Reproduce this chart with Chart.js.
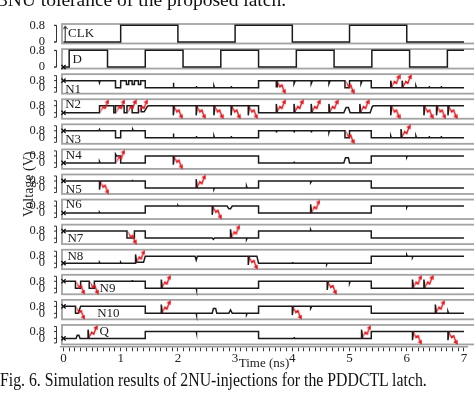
<!DOCTYPE html>
<html>
<head>
<meta charset="utf-8">
<script src="https://cdn.jsdelivr.net/npm/chart.js@4.4.0/dist/chart.umd.min.js"></script>
<style>
  html, body { margin: 0; padding: 0; background: #fff; }
  body { width: 474px; height: 395px; position: relative; overflow: hidden;
         font-family: "Liberation Serif", "Times New Roman", serif; color: #111; }
  #wrap { position: absolute; left: 0; top: 0; width: 474px; height: 395px; }
  .cap { position: absolute; left: 0; white-space: nowrap; line-height: 1; }
  #capTop { top: -10px; left: -2px; font-size: 19.5px; }
  #capBottom { top: 373.3px; left: 0; font-size: 15.8px; transform: scaleY(1.15); transform-origin: 0 13.2px; }
</style>
</head>
<body>
<div id="wrap"><canvas id="chart"></canvas></div>
<div class="cap" id="capTop">3NU tolerance of the proposed latch.</div>
<div class="cap" id="capBottom">Fig. 6. Simulation results of 2NU-injections for the PDDCTL latch.</div>
<script>
// Signal names, top to bottom
const rows = ['CLK', 'D', 'N1', 'N2', 'N3', 'N4', 'N5', 'N6', 'N7', 'N8', 'N9', 'N10', 'Q'];

// Waveforms as [time (ns), voltage (V)]
const clkWave = [[0,0],[1,0],[1,0.8],[2,0.8],[2,0],[3,0],[3,0.8],[4,0.8],[4,0],[5,0],[5,0.8],[6,0.8],[6,0],[7,0]];
const dWave = [[0,0],[0.1,0],[0.1,0.8],[0.77,0.8],[0.77,0],[1.43,0],[1.43,0.8],[2.09,0.8],[2.09,0],[2.75,0],[2.75,0.8],
  [3.41,0.8],[3.41,0],[4.07,0],[4.07,0.8],[4.73,0.8],[4.73,0],[5.39,0],[5.39,0.8],[6.05,0.8],[6.05,0],[6.71,0],[6.71,0.8],[7,0.8]];
const n1Wave = [[0,0.8],[0.62,0.8],[0.63,0.55],[0.64,0.8],[0.91,0.8],[0.91,0],[1.0,0],[1.0,0.8],
  [1.1,0.8],[1.1,0.35],[1.14,0.35],[1.14,0.8],[1.2,0.8],[1.2,0.35],[1.24,0.35],[1.24,0.8],
  [1.31,0.8],[1.31,0.35],[1.35,0.35],[1.35,0.8],[1.43,0.8],[1.43,0],
  [1.92,0],[1.92,0.55],[1.93,0],[2.32,0],[2.32,0.2],[2.33,0],[2.63,0],[2.63,0.2],[2.64,0],[2.93,0],[2.93,0.2],[2.94,0],
  [3.41,0],[3.41,0.8],[3.72,0.8],[3.72,0.1],[3.74,0.1],[3.74,0.8],
  [4.03,0.8],[4.03,0.45],[4.05,0.8],[4.33,0.8],[4.33,0.45],[4.35,0.8],[4.64,0.8],[4.64,0.45],[4.66,0.8],
  [4.92,0.8],[4.92,0],[5.0,0],[5.0,0.8],[5.2,0.8],[5.2,0.45],[5.22,0.8],[5.38,0.8],[5.38,0],
  [5.72,0],[5.72,0.8],[5.74,0],[5.92,0],[5.92,0.8],[5.94,0],
  [6.16,0],[6.16,0.2],[6.17,0],[6.39,0],[6.39,0.2],[6.4,0],[6.6,0],[6.6,0.2],[6.61,0],[7,0]];
const n2Wave = [[0,0],[0.63,0],[0.63,0.8],[0.88,0.8],[0.88,0],[0.91,0],[0.91,0.8],[1.06,0.8],[1.06,0],
  [1.11,0],[1.11,0.8],[1.2,0.8],[1.2,0],[1.31,0],[1.31,0.8],[1.36,0.8],[1.36,0.1],[1.41,0.1],[1.47,0.75],[1.5,0.8],
  [1.92,0.8],[1.92,-0.3],[1.94,0.8],[2.32,0.8],[2.32,-0.3],[2.34,0.8],[2.63,0.8],[2.63,-0.3],[2.65,0.8],
  [2.93,0.8],[2.93,-0.3],[2.95,0.8],[3.23,0.8],[3.23,-0.3],[3.25,0.8],[3.41,0.8],[3.41,0],
  [3.72,0],[3.72,1.0],[3.74,0],[4.03,0],[4.03,1.0],[4.05,0],[4.33,0],[4.33,1.0],[4.35,0],[4.64,0],[4.64,1.0],[4.66,0],
  [4.9,0],[4.94,0.6],[4.98,0.6],[5.01,0],[5.18,0],[5.18,1.0],[5.2,0],[5.36,0],[5.4,0.75],[5.43,0.8],
  [5.72,0.8],[5.72,-0.3],[5.74,0.8],[6.3,0.8],[6.3,-0.3],[6.32,0.8],[6.52,0.8],[6.52,-0.3],[6.54,0.8],
  [6.72,0.8],[6.72,-0.3],[6.74,0.8],[7,0.8]];
const n3Wave = [[0,0.8],[0.62,0.8],[0.63,0.95],[0.64,0.8],[0.91,0.8],[0.91,0],[1.0,0],[1.0,0.8],
  [1.2,0.8],[1.21,0.95],[1.22,0.8],[1.43,0.8],[1.43,0],
  [1.92,0],[1.92,0.5],[1.93,0],[2.32,0],[2.32,0.2],[2.33,0],[2.63,0],[2.63,0.2],[2.64,0],[2.93,0],[2.93,0.2],[2.94,0],
  [3.41,0],[3.41,0.8],[3.72,0.8],[3.72,0.6],[3.73,0.8],[4.03,0.8],[4.03,0.6],[4.04,0.8],
  [4.33,0.8],[4.33,0.6],[4.34,0.8],[4.64,0.8],[4.64,0.6],[4.65,0.8],
  [4.92,0.8],[4.92,0],[5.0,0],[5.0,0.8],[5.38,0.8],[5.38,0],
  [5.72,0],[5.72,0.2],[5.73,0],[5.9,0],[5.9,1.0],[5.92,0],
  [6.16,0],[6.16,0.2],[6.17,0],[6.39,0],[6.39,0.2],[6.4,0],[6.6,0],[6.6,0.2],[6.61,0],[7,0]];
const n4Wave = [[0,0],[0.63,0],[0.63,0.15],[0.64,0],[0.91,0],[0.91,1.0],[0.93,0.8],[1.0,0.8],[1.0,0],
  [1.43,0],[1.43,0.8],[1.92,0.8],[1.92,-0.2],[1.94,0.8],[3.41,0.8],[3.41,0],
  [4.03,0],[4.03,0.15],[4.04,0],[4.9,0],[4.93,0.6],[4.98,0.6],[5.0,0],[5.38,0],[5.38,0.8],
  [6.0,0.8],[6.0,0.65],[6.01,0.8],[7,0.8]];
const n5Wave = [[0,0.8],[0.63,0.8],[0.63,-0.2],[0.65,0.8],[1.2,0.8],[1.2,0.95],[1.21,0.8],[1.43,0.8],[1.43,0],
  [2.32,0],[2.32,1.0],[2.34,0],[2.63,0],[2.63,-0.15],[2.64,0],[3.2,0],[3.2,0.2],[3.21,0],
  [3.41,0],[3.41,0.8],[4.32,0.8],[4.32,0.6],[4.34,0.8],[5.38,0.8],[5.38,0],[7,0]];
const n6Wave = [[0,0],[0.63,0],[0.63,0.1],[0.64,0],[1.43,0],[1.43,0.8],[2.0,0.8],[2.0,0.9],[2.01,0.8],
  [2.6,0.8],[2.6,-0.2],[2.62,0.8],[2.86,0.8],[2.89,0.5],[2.92,0.5],[2.95,0.8],[3.41,0.8],[3.41,0],
  [4.32,0],[4.32,1.0],[4.34,0],[5.38,0],[5.38,0.8],[6.0,0.8],[6.0,0.65],[6.01,0.8],[7,0.8]];
const n7Wave = [[0,0.8],[1.11,0.8],[1.11,0],[1.24,0],[1.24,0.8],[1.43,0.8],[1.43,0],
  [2.6,0],[2.62,-0.15],[2.64,0],[2.92,0],[2.92,1.0],[2.94,0],[3.2,0],[3.2,-0.15],[3.21,0],
  [3.41,0],[3.41,0.8],[4.32,0.8],[4.32,0.95],[4.33,0.8],[5.38,0.8],[5.38,0],[7,0]];
const n8Wave = [[0,0],[0.63,0],[0.63,0.1],[0.64,0],[1.0,0],[1.0,0.1],[1.01,0],
  [1.26,0],[1.26,1.0],[1.28,0.1],[1.4,0.1],[1.43,0.8],[2.3,0.8],[2.32,0.35],[2.34,0.8],
  [3.23,0.8],[3.23,-0.2],[3.25,0.8],[3.38,0.8],[3.41,0],[4.0,0],[4.0,0.15],[4.01,0],[4.6,0],[4.6,-0.15],[4.61,0],
  [5.38,0],[5.38,0.8],[6.0,0.8],[6.0,0.95],[6.01,0.8],[6.1,0.8],[6.1,0.65],[6.11,0.8],[7,0.8]];
const n9Wave = [[0,0.8],[0.21,0.8],[0.21,0],[0.3,0],[0.3,0.8],[0.45,0.8],[0.45,0],[0.54,0],[0.54,0.8],
  [1.2,0.8],[1.2,0.95],[1.21,0.8],[1.43,0.8],[1.43,0],[1.71,0],[1.71,1.0],[1.73,0],
  [2.32,0],[2.32,-0.15],[2.33,0],[3.41,0],[3.41,0.8],[4.61,0.8],[4.61,-0.2],[4.63,0.8],
  [5.0,0.8],[5.0,0.6],[5.01,0.8],[5.38,0.8],[5.38,0],[6.1,0],[6.1,1.0],[6.12,0],[6.3,0],[6.3,1.0],[6.32,0],[7,0]];
const n10Wave = [[0,0.8],[0.21,0.8],[0.21,0],[0.26,0],[0.3,0.8],[1.43,0.8],[1.43,0],
  [1.71,0],[1.71,1.0],[1.73,0],[2.32,0],[2.32,-0.15],[2.33,0],[2.6,0],[2.62,0.55],[2.66,0.55],[2.68,0],
  [2.89,0],[2.92,0.4],[2.95,0],[3.2,0],[3.2,-0.15],[3.21,0],[3.41,0],[3.41,0.8],
  [4.0,0.8],[4.0,-0.2],[4.02,0.8],[4.32,0.8],[4.32,0.55],[4.34,0.8],[5.38,0.8],[5.38,0],
  [6.5,0],[6.5,1.0],[6.52,0],[6.72,0],[6.72,0.2],[6.73,0],[7,0]];
const qWave = [[0,0],[0.22,0],[0.24,0.35],[0.27,0.35],[0.29,0],[0.43,0],[0.43,1.0],[0.45,0],
  [1.43,0],[1.43,0.8],[2.32,0.8],[2.32,0.65],[2.33,0.8],[3.41,0.8],[3.41,0],[4.03,0],[4.03,0.15],[4.04,0],
  [5.21,0],[5.21,1.0],[5.23,0],[5.38,0],[5.38,0.8],[6.1,0.8],[6.1,-0.2],[6.12,0.8],[6.72,0.8],[6.72,-0.2],[6.74,0.8],[7,0.8]];

// Injection strikes: [time (ns), direction] (1 = rising, -1 = falling)
const clkHits = [];
const dHits = [];
const n1Hits = [[3.72,-1],[4.92,-1],[5.72,1],[5.92,1]];
const n2Hits = [[0.63,1],[0.91,1],[1.11,1],[1.31,1],[1.92,-1],[2.32,-1],[2.63,-1],[2.93,-1],[3.23,-1],
  [3.72,1],[4.03,1],[4.33,1],[4.64,1],[5.18,1],[5.72,-1],[6.3,-1],[6.52,-1],[6.72,-1]];
const n3Hits = [[4.92,-1],[5.9,1]];
const n4Hits = [[0.91,1],[1.92,-1]];
const n5Hits = [[0.63,-1],[2.32,1]];
const n6Hits = [[2.6,-1],[4.32,1]];
const n7Hits = [[1.11,-1],[2.92,1]];
const n8Hits = [[1.26,1],[3.23,-1]];
const n9Hits = [[0.21,-1],[0.45,-1],[1.71,1],[4.61,-1],[6.1,1],[6.3,1]];
const n10Hits = [[0.21,-1],[1.71,1],[4.0,-1],[6.5,1]];
const qHits = [[0.43,1],[5.21,1],[6.1,-1],[6.72,-1]];

// Row name labels: time of left edge, voltage of centre
const labelTime = [0.08, 0.16, 0.03, 0.03, 0.03, 0.04, 0.04, 0.04, 0.07, 0.07, 0.63, 0.59, 0.63];
const labelVolt = [0.41, 0.34, -0.2, 0.96, -0.15, 0.8, -0.13, 0.91, -0.1, 0.72, -0.07, -0.07, 0.74];

// Axis ticks
const xTickLabels = ['0', '1', '2', '3', '4', '5', '6', '7'];
const yTickValues = [0, 0.8];
const yTickLabels = ['0', '0.8'];

const waveList = [clkWave, dWave, n1Wave, n2Wave, n3Wave, n4Wave, n5Wave, n6Wave, n7Wave, n8Wave, n9Wave, n10Wave, qWave];
const hitList = [clkHits, dHits, n1Hits, n2Hits, n3Hits, n4Hits, n5Hits, n6Hits, n7Hits, n8Hits, n9Hits, n10Hits, qHits];

const serif = '"Liberation Serif", "Times New Roman", serif';
const inkColor = '#1a1a1a';

// Red lightning-bolt strike markers
function makeBolt(flip) {
    const c = document.createElement('canvas');
    c.width = 10; c.height = 15;
    const g = c.getContext('2d');
    const pts = [[0.4,14.6],[3.3,6.2],[5.6,7.8],[7.0,3.7],[5.3,3.1],[9.8,0.2],[9.6,5.5],[8.2,4.6],[6.2,10.5],[3.9,8.9]];
    g.fillStyle = '#e3161d';
    g.beginPath();
    pts.forEach(([x, y], k) => {
        const yy = flip ? 15 - y : y;
        if (k) g.lineTo(x, yy); else g.moveTo(x, yy);
    });
    g.closePath();
    g.fill();
    return c;
}
const upBolt = makeBolt(false);
const downBolt = makeBolt(true);

// Up-arrow marker at the start of CLK
function makeClkMark() {
    const c = document.createElement('canvas');
    c.width = 5; c.height = 17;
    const g = c.getContext('2d');
    g.strokeStyle = '#222';
    g.lineWidth = 1;
    g.beginPath();
    g.moveTo(2.5, 16.5); g.lineTo(2.5, 1);
    g.moveTo(0.5, 4); g.lineTo(2.5, 0.8); g.lineTo(4.5, 4);
    g.stroke();
    return c;
}

const datasets = [];
rows.forEach((name, i) => {
    datasets.push({
        label: name,
        data: waveList[i].map(([x, y]) => ({x, y})),
        yAxisID: 'y' + i,
        showLine: true,
        borderColor: inkColor,
        borderWidth: 1.5,
        tension: 0,
        pointStyle: 'crossRot',
        pointRadius: ctx => (ctx.dataIndex === 0 && name !== 'CLK') ? 3 : 0,
        pointBorderColor: '#111',
        pointBorderWidth: 1.3,
        order: 1
    });
    const hits = hitList[i];
    if (hits.length) {
        datasets.push({
            label: name + ' strikes',
            data: hits.map(([t, d]) => ({x: t + 0.085, y: d > 0 ? 0.7 : 0.1})),
            yAxisID: 'y' + i,
            showLine: false,
            pointStyle: hits.map(([t, d]) => d > 0 ? upBolt : downBolt),
            pointRadius: 6,
            order: 0
        });
    }
});
datasets.push({
    label: 'CLK mark',
    data: [{x: 0.03, y: 0.4}],
    yAxisID: 'y0',
    showLine: false,
    pointStyle: makeClkMark(),
    pointRadius: 6,
    order: 0
});

// Minor ticks every 0.1 ns along the time axis
const minorTicks = [];
for (let k = 0; k <= 70; k++) minorTicks.push(k / 10);

const scales = {
    x: {
        type: 'linear',
        position: 'bottom',
        min: -0.043,
        max: 7.053,
        afterBuildTicks: s => { s.ticks = minorTicks.map(v => ({value: v})); },
        afterFit: s => { s.height = 24.6; },
        grid: { drawOnChartArea: false, drawTicks: true, tickLength: 4, color: '#333', lineWidth: 1 },
        border: { display: true, color: '#9a9a9a', width: 1.5 },
        ticks: {
            autoSkip: false, maxRotation: 0, padding: 0, color: '#222',
            font: { family: serif, size: 13 },
            callback: v => {
                const r = Math.round(v * 10);
                return r % 10 === 0 ? xTickLabels[r / 10] : '';
            }
        },
        title: { display: true, text: 'Time (ns)', color: '#222', font: { family: serif, size: 13 }, padding: 0 }
    }
};

rows.forEach((name, i) => {
    const isLogic = i < 2;
    scales['y' + i] = {
        type: 'linear',
        position: 'left',
        stack: 'rows',
        stackWeight: 1,
        weight: rows.length - i,
        min: isLogic ? -0.206 : -1.006,
        max: isLogic ? 0.995 : 1.86,
        afterBuildTicks: s => { s.ticks = yTickValues.map(v => ({value: v})); },
        afterFit: s => { s.width = 61; },
        grid: { display: false },
        border: { display: false },
        ticks: {
            autoSkip: false, padding: 8, color: '#222',
            font: { family: serif, size: 12.5 },
            callback: (v, idx) => yTickLabels[idx]
        },
        title: {
            display: name === 'N5',
            text: 'Voltage (V)',
            color: '#222',
            font: { family: serif, size: 14 },
            padding: { top: 20.5, bottom: 0 }
        }
    };
});

// Grey panel frames, left brackets and signal names
const panelPlugin = {
    id: 'panels',
    beforeDatasetsDraw(chart) {
        const {ctx, chartArea} = chart;
        ctx.save();
        rows.forEach((name, i) => {
            const s = chart.scales['y' + i];
            const top = s.top + 2.8;
            const bottom = s.bottom - 2.8;
            ctx.strokeStyle = '#a3a3a3';
            ctx.lineWidth = 1.8;
            ctx.strokeRect(chartArea.left + 1, top, chartArea.right - chartArea.left + 10, bottom - top);

            const bx = chartArea.left - 4.5;
            ctx.strokeStyle = '#333';
            ctx.lineWidth = 1;
            ctx.beginPath();
            ctx.moveTo(bx - 2.5, top + 1.5);
            ctx.lineTo(bx, top + 1.5);
            ctx.lineTo(bx, bottom - 1.5);
            ctx.lineTo(bx - 2.5, bottom - 1.5);
            yTickValues.forEach(v => {
                const py = s.getPixelForValue(v);
                ctx.moveTo(bx - 2.5, py);
                ctx.lineTo(bx, py);
            });
            ctx.stroke();
        });
        ctx.restore();
    },
    afterDatasetsDraw(chart) {
        const {ctx} = chart;
        const xs = chart.scales.x;
        ctx.save();
        ctx.fillStyle = '#1a1a1a';
        ctx.font = '13px ' + serif;
        ctx.textBaseline = 'middle';
        ctx.textAlign = 'left';
        rows.forEach((name, i) => {
            const s = chart.scales['y' + i];
            ctx.fillText(name, xs.getPixelForValue(labelTime[i]), s.getPixelForValue(labelVolt[i]));
        });
        ctx.restore();
    }
};

new Chart(document.getElementById('chart'), {
    type: 'scatter',
    data: { datasets },
    options: {
        responsive: true,
        maintainAspectRatio: false,
        animation: false,
        events: [],
        layout: { padding: { top: 21.2, left: 0, right: 0, bottom: 23.16 } },
        plugins: { legend: { display: false }, tooltip: { enabled: false } },
        scales
    },
    plugins: [panelPlugin]
});
</script>
</body>
</html>
